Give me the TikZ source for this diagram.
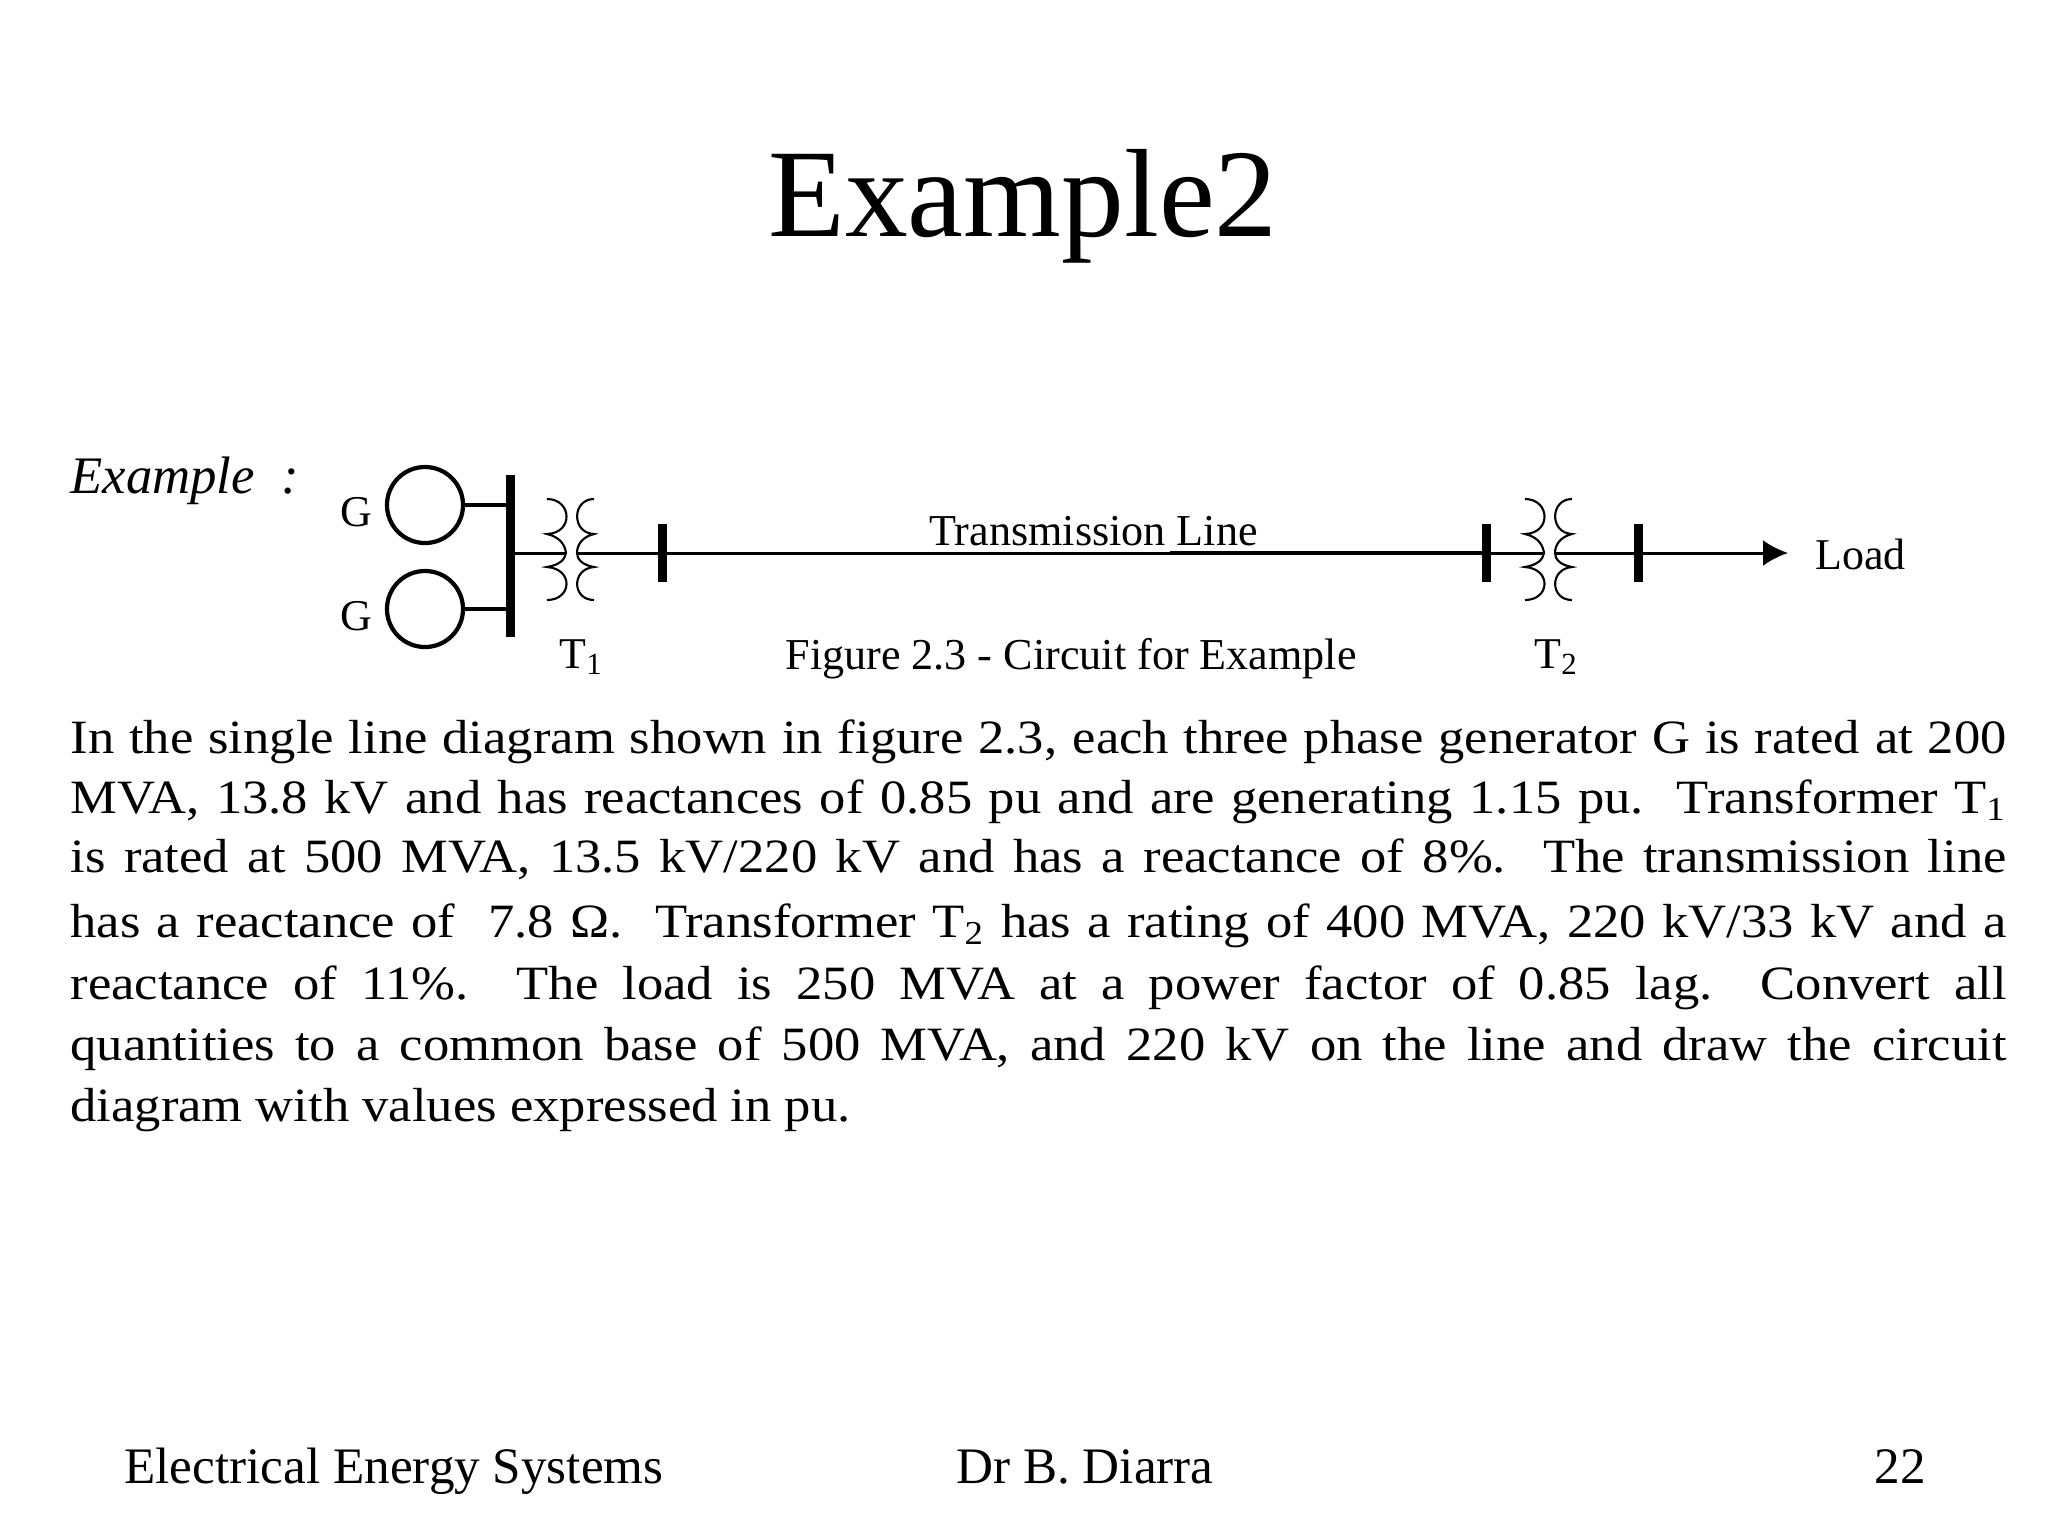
\documentclass[tikz,border=0pt]{standalone}
\usepackage{fontspec}
\setmainfont{Liberation Serif}
\newfontfamily\bodyfont[FakeStretch=1.1]{Liberation Serif}
\usetikzlibrary{arrows.meta}
\tikzset{every picture/.style={line width=0.85pt}}
\tikzset{
  bus/.style={rectangle,fill=black,inner sep=0pt,outer sep=0pt,minimum width=0.09cm},
  gen/.style={circle,draw,line width=1.2pt,inner sep=0pt,outer sep=0pt,minimum size=0.76cm},
  lbl/.style={anchor=base west,inner sep=0pt,font=\fontsize{12.5}{15}\selectfont},
  body/.style={anchor=base west,inner sep=0pt,font=\bodyfont\fontsize{13.6}{15}\selectfont},
  foot/.style={anchor=base west,inner sep=0pt,font=\fontsize{14.55}{17}\selectfont},
  coils/.pic={
    \draw[line width=0.6pt] (-27,-54) .. controls (-2,-54) and (0,-20) .. (-27,-19)
      .. controls (-14,-16) and (-9,-8) .. (-8,0) .. controls (-9,6) and (-14,12) .. (-27,14)
      .. controls (0,16) and (-2,47) .. (-27,47);
    \draw[line width=0.6pt] (20,-54) .. controls (-2,-54) and (-3,-20) .. (20,-19)
      .. controls (8,-16) and (3,-8) .. (3,0) .. controls (3,6) and (8,12) .. (20,14)
      .. controls (-3,16) and (-2,47) .. (20,47);
    \coordinate (-in) at (-8,0);
    \coordinate (-out) at (3,0);
  }
}
\begin{document}
\begin{tikzpicture}[x=0.01cm,y=-0.01cm]
\useasboundingbox (0,0) rectangle (2048,1536);
\node (title) at (1023,206) [inner sep=0pt,font=\fontsize{35.7}{40}\selectfont] {Example2};
\node (example) [lbl,font=\fontsize{15}{15}\selectfont\itshape] at (69,493) {Example\ \ :};
%
\node (g1) [gen] at (425,505) {};
\node (g2) [gen] at (425,609) {};
\node (g1label) [lbl] at (339,526) {G};
\node (g2label) [lbl] at (339,630) {G};
\node (busa) [bus,minimum height=1.61cm] at (510,556) {};
\node (busb) [bus,minimum height=0.57cm] at (662,553) {};
\node (busc) [bus,minimum height=0.57cm] at (1486,553) {};
\node (busd) [bus,minimum height=0.57cm] at (1638,553) {};
\pic (t1) at (574,553) {coils};
\pic (t2) at (1552,553) {coils};
\coordinate (loadend) at (1788,553);
%
\draw [line width=1.4pt] (g1.east) -- (g1.east -| busa.west);
\draw [line width=1pt] (g2.east) -- (g2.east -| busa.west);
\draw (busa.east |- t1-in) -- (t1-in);
\draw (t1-out) -- (busb.west);
\draw (busb.east) -- (busc.west);
\draw [line width=1.1pt] (1170,553) -- (busc.west);
\draw (busc.east) -- (t2-in);
\draw (t2-out) -- (busd.west);
\draw [-{Latex[length=0.25cm,width=0.26cm]}] (busd.east) -- (loadend);
%
\node (transline) [lbl,font=\fontsize{12.55}{15}\selectfont] at (928,545) {Transmission Line};
\node (load) [lbl] at (1814,569) {Load};
\node (t1label) [lbl] at (558,668) {T\textsubscript{1}};
\node (t2label) [lbl] at (1533,668) {T\textsubscript{2}};
\node (caption) [lbl,font=\fontsize{12.55}{15}\selectfont] at (784,669) {Figure 2.3 - Circuit for Example};
%
\newcommand{\bodyline}[1]{\makebox[19.35cm][s]{#1}}
\node (line1) [body] at (69,753) {\bodyline{In the single line diagram shown in figure 2.3, each three phase generator G is rated at 200}};
\node (line2) [body] at (69,813) {\bodyline{MVA, 13.8 kV and has reactances of 0.85 pu and are generating 1.15 pu.\ \ Transformer T\textsubscript{1}}};
\node (line3) [body] at (69,872) {\bodyline{is rated at 500 MVA, 13.5 kV/220 kV and has a reactance of 8\%.\ \ The transmission line}};
\node (line4) [body] at (69,937) {\bodyline{has a reactance of\ \ 7.8 Ω.\ \ Transformer T\textsubscript{2} has a rating of 400 MVA, 220 kV/33 kV and a}};
\node (line5) [body] at (69,999) {\bodyline{reactance of 11\%.\ \ The load is 250 MVA at a power factor of 0.85 lag.\ \ Convert all}};
\node (line6) [body] at (69,1060) {\bodyline{quantities to a common base of 500 MVA, and 220 kV on the line and draw the circuit}};
\node (line7) [body] at (69,1121) {diagram with values expressed in pu.};
%
\node (footl) [foot] at (123,1483) {Electrical Energy Systems};
\node (footm) [foot] at (955,1483) {Dr B. Diarra};
\node (footr) [foot] at (1873,1483) {22};
\end{tikzpicture}
\end{document}
